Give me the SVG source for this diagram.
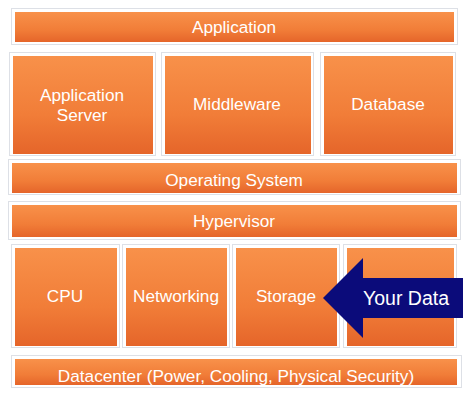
<svg xmlns="http://www.w3.org/2000/svg" width="474" height="404" viewBox="0 0 474 404">
<defs>
<linearGradient id="og" x1="0" y1="0" x2="0" y2="1">
<stop offset="0" stop-color="#f8914a"/>
<stop offset="0.6" stop-color="#f17d38"/>
<stop offset="1" stop-color="#e5652a"/>
</linearGradient>
</defs>
<style>
.frame{fill:#ffffff;stroke:#dde0e6;stroke-width:1}
.box{fill:url(#og)}
.t{font-family:"Liberation Sans",Arial,sans-serif;font-size:17.2px;fill:#ffffff;text-anchor:middle}
.big{font-family:"Liberation Sans",Arial,sans-serif;font-size:19.5px;fill:#ffffff;text-anchor:middle}
</style>
<rect width="474" height="404" fill="#ffffff"/>
<g id="application">
<rect class="frame" x="11.5" y="8.5" width="446" height="36"/>
<rect class="box" x="15" y="12" width="439" height="30"/>
<text class="t" x="234" y="33">Application</text>
</g>
<g id="appserver">
<rect class="frame" x="9.5" y="52.5" width="146" height="103"/>
<rect class="box" x="13" y="56" width="140" height="98"/>
<text class="t" x="82" y="101">Application</text>
<text class="t" x="82" y="120.5">Server</text>
</g>
<g id="middleware">
<rect class="frame" x="161.5" y="52.5" width="152" height="103"/>
<rect class="box" x="165" y="56" width="146" height="98"/>
<text class="t" x="237" y="110">Middleware</text>
</g>
<g id="database">
<rect class="frame" x="320.5" y="52.5" width="135" height="103"/>
<rect class="box" x="324" y="56" width="129" height="98"/>
<text class="t" x="388" y="110">Database</text>
</g>
<g id="os">
<rect class="frame" x="8.5" y="159.5" width="452" height="35"/>
<rect class="box" x="12" y="163" width="445" height="30"/>
<text class="t" x="234" y="186">Operating System</text>
</g>
<g id="hypervisor">
<rect class="frame" x="8.5" y="201.5" width="452" height="38"/>
<rect class="box" x="12" y="205" width="445" height="32"/>
<text class="t" x="234" y="227">Hypervisor</text>
</g>
<g id="cpu">
<rect class="frame" x="11.5" y="244.5" width="108" height="103"/>
<rect class="box" x="15" y="248" width="102" height="98"/>
<text class="t" x="65" y="302">CPU</text>
</g>
<g id="networking">
<rect class="frame" x="122.5" y="244.5" width="107" height="103"/>
<rect class="box" x="126" y="248" width="101" height="98"/>
<text class="t" x="176" y="302">Networking</text>
</g>
<g id="storage">
<rect class="frame" x="232.5" y="244.5" width="107" height="103"/>
<rect class="box" x="236" y="248" width="101" height="98"/>
<text class="t" x="286" y="302">Storage</text>
</g>
<g id="empty">
<rect class="frame" x="343.5" y="244.5" width="113" height="103"/>
<rect class="box" x="347" y="248" width="107" height="98"/>
</g>
<g id="datacenter">
<rect class="frame" x="11.5" y="355.5" width="450" height="32"/>
<rect class="box" x="15" y="359" width="442" height="26"/>
<text class="t" x="236" y="382">Datacenter (Power, Cooling, Physical Security)</text>
</g>
<g id="connectors">
<g id="yourdata">
<polygon points="323,298 363,258 363,278 463,278 463,318 363,318 363,338" fill="#0b0b7a"/>
<text class="big" x="406" y="305">Your Data</text>
</g>
</g>
</svg>
